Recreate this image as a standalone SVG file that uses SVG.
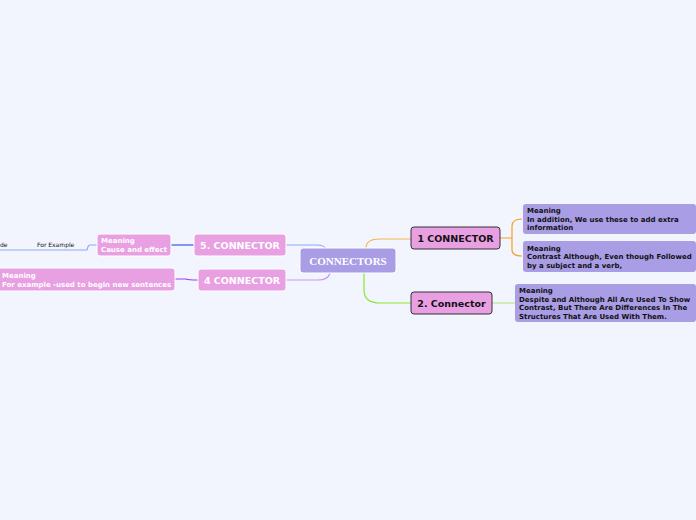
<svg xmlns="http://www.w3.org/2000/svg" width="696" height="520" viewBox="0 0 696 520">
<style>
.t{font-family:"DejaVu Sans",Verdana,sans-serif;font-weight:bold}
.w{fill:#fff}
.k{fill:#111}
.c{fill:none;stroke-width:1.2}
</style>
<rect width="696" height="520" fill="#f2f5fe"/>
<g id="connectors">
<path class="c" stroke="#f5b552" d="M366 248 Q366 239 380 239 H411"/>
<path class="c" stroke="#f5a020" d="M500 238 H512 M512 238 V226 Q512 219 522 219 M512 238 V250 Q512 256 522 256"/>
<path class="c" stroke="#8be82c" d="M364 273 V290 Q364 303 380 303 H411"/>
<path class="c" stroke="#b6e88c" d="M492 303 H515"/>
<path class="c" stroke="#8ea7f5" d="M286 245 H316 Q326 245 326 250"/>
<path class="c" stroke="#3a5ae6" d="M171 245 H194"/>
<path class="c" stroke="#8ea7f5" d="M97 245 H90 Q88 245 87 250 H0"/>
<path class="c" stroke="#c995f5" d="M286 280 H318 Q328 280 330 273"/>
<path class="c" stroke="#9d3ee6" d="M175 279 H186 Q188 280 198 280"/>
</g>
<g id="center"><rect x="300" y="248" width="96" height="25" rx="3" fill="#a99de6" stroke="#fff"/><text x="348" y="265" text-anchor="middle" font-family="Liberation Serif,serif" font-weight="bold" font-size="11" class="w">CONNECTORS</text></g>
<g id="n1"><rect x="411" y="227" width="89" height="22" rx="3" fill="#e8a0e2" stroke="#333"/><text x="455.5" y="242" text-anchor="middle" font-size="9.5" class="t k">1 CONNECTOR</text></g>
<g id="n1a"><rect x="523" y="204" width="173" height="30" rx="3" fill="#a99de6"/><text class="t k" font-size="7"><tspan x="527" y="213">Meaning</tspan><tspan x="527" y="221.5">In addition, We use these to add extra</tspan><tspan x="527" y="230">information</tspan></text></g>
<g id="n1b"><rect x="523" y="241" width="173" height="31" rx="3" fill="#a99de6"/><text class="t k" font-size="7"><tspan x="527" y="250.5">Meaning</tspan><tspan x="527" y="259">Contrast Although, Even though Followed</tspan><tspan x="527" y="267.5">by a subject and a verb,</tspan></text></g>
<g id="n2"><rect x="411" y="292" width="81" height="22" rx="3" fill="#e8a0e2" stroke="#333"/><text x="451.5" y="307" text-anchor="middle" font-size="9.5" class="t k">2. Connector</text></g>
<g id="n2a"><rect x="515" y="284" width="181" height="38" rx="3" fill="#a99de6"/><text class="t k" font-size="7"><tspan x="519" y="293">Meaning</tspan><tspan x="519" y="301.5">Despite and Although All Are Used To Show</tspan><tspan x="519" y="310">Contrast, But There Are Differences In The</tspan><tspan x="519" y="318.5">Structures That Are Used With Them.</tspan></text></g>
<g id="n5"><rect x="194" y="234" width="92" height="22" rx="3" fill="#e8a0e2" stroke="#fff"/><text x="240" y="248.5" text-anchor="middle" font-size="9.5" class="t w">5. CONNECTOR</text></g>
<g id="n5a"><rect x="97" y="234" width="74" height="22" rx="3" fill="#e8a0e2" stroke="#fff"/><text class="t w" font-size="7"><tspan x="101" y="243">Meaning</tspan><tspan x="101" y="251.5">Cause and effect</tspan></text></g>
<g id="n5b"><text x="37" y="247" font-family="DejaVu Sans,sans-serif" font-size="6" fill="#111">For Example</text><text x="0" y="247" font-family="DejaVu Sans,sans-serif" font-size="6" fill="#111">de</text></g>
<g id="n4"><rect x="198" y="269" width="88" height="22" rx="3" fill="#e8a0e2" stroke="#fff"/><text x="242" y="284" text-anchor="middle" font-size="9.5" class="t w">4 CONNECTOR</text></g>
<g id="n4a"><rect x="-4" y="268" width="179" height="23" rx="3" fill="#e8a0e2" stroke="#fff"/><text class="t w" font-size="7"><tspan x="2" y="277.5">Meaning</tspan><tspan x="2" y="286.5">For example -used to begin new sentences</tspan></text></g>
</svg>
